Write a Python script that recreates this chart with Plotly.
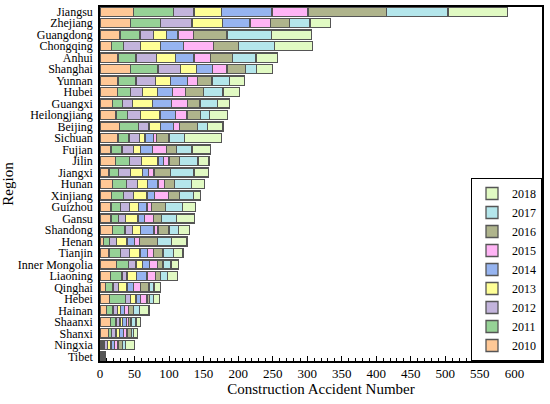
import plotly.graph_objects as go

regions = [
    "Jiangsu", "Zhejiang", "Guangdong", "Chongqing", "Anhui", "Shanghai", "Yunnan",
    "Hubei", "Guangxi", "Heilongjiang", "Beijing", "Sichuan", "Fujian", "Jilin",
    "Jiangxi", "Hunan", "Xinjiang", "Guizhou", "Gansu", "Shandong", "Henan",
    "Tianjin", "Inner Mongolia", "Liaoning", "Qinghai", "Hebei", "Hainan",
    "Shaanxi", "Shanxi", "Ningxia", "Tibet",
]

years = ["2010", "2011", "2012", "2013", "2014", "2015", "2016", "2017", "2018"]

# accidents per region, one list per year
y2010 = [48, 44, 29, 17, 26, 44, 26, 25, 18, 23, 28, 26, 16, 22, 13, 18, 17, 16, 16, 18, 5, 13, 24, 15, 8, 14, 9, 15, 12, 3, 1]
y2011 = [58, 44, 29, 17, 26, 40, 26, 19, 15, 17, 28, 16, 16, 21, 14, 20, 17, 14, 11, 18, 9, 17, 17, 17, 11, 23, 10, 8, 5, 3, 0]
y2012 = [30, 45, 19, 25, 30, 33, 28, 18, 14, 19, 15, 15, 17, 17, 17, 16, 15, 13, 10, 11, 10, 13, 11, 7, 8, 7, 6, 6, 6, 5, 1]
y2013 = [40, 44, 19, 29, 27, 23, 22, 21, 29, 28, 17, 8, 10, 24, 18, 15, 19, 13, 18, 12, 15, 15, 10, 14, 12, 8, 5, 4, 5, 5, 0]
y2014 = [73, 40, 17, 33, 27, 23, 25, 22, 28, 22, 18, 12, 17, 8, 8, 15, 11, 12, 9, 19, 11, 11, 10, 15, 9, 7, 5, 5, 6, 5, 2]
y2015 = [52, 30, 22, 43, 24, 21, 14, 19, 23, 17, 9, 5, 20, 8, 8, 9, 20, 7, 13, 6, 7, 8, 11, 12, 11, 9, 6, 3, 5, 5, 2]
y2016 = [114, 27, 49, 37, 32, 27, 21, 26, 18, 20, 26, 18, 15, 15, 24, 15, 16, 20, 12, 16, 26, 14, 8, 8, 12, 4, 7, 4, 7, 7, 1]
y2017 = [89, 30, 64, 52, 34, 16, 25, 28, 25, 13, 15, 22, 22, 27, 34, 24, 20, 24, 22, 14, 21, 15, 12, 10, 7, 5, 9, 7, 2, 4, 0]
y2018 = [86, 30, 58, 55, 31, 23, 22, 24, 18, 26, 22, 54, 27, 16, 21, 19, 11, 19, 26, 16, 22, 14, 11, 14, 10, 9, 14, 7, 6, 13, 1]

series = [y2010, y2011, y2012, y2013, y2014, y2015, y2016, y2017, y2018]
colors = ["#FFC896", "#96D296", "#C3B4DC", "#FFFF96", "#96B4F0",
          "#FFB4F5", "#AFB48C", "#B4E6EB", "#E1FAC3"]

fig = go.Figure()
for year, vals, col in zip(years, series, colors):
    fig.add_trace(go.Bar(
        name=year, y=regions, x=vals, orientation="h",
        marker=dict(color=col, line=dict(color="#555555", width=1.3)),
    ))

font = "Liberation Serif, Times New Roman, serif"
fig.update_layout(
    barmode="stack",
    bargap=0.2,
    width=550, height=404,
    margin=dict(l=100, r=8, t=7, b=43),
    plot_bgcolor="white",
    paper_bgcolor="white",
    font=dict(family=font, size=12, color="black"),
    legend=dict(
        traceorder="reversed",
        x=1, y=0, xanchor="right", yanchor="bottom",
        bordercolor="black", borderwidth=1,
        font=dict(size=12),
        itemwidth=30,
        tracegroupgap=0,
    ),
)
fig.update_xaxes(
    range=[0, 640],
    tickvals=list(range(0, 601, 50)),
    ticks="inside", ticklen=5, tickcolor="black",
    minor=dict(dtick=10, ticks="inside", ticklen=3, tickcolor="black"),
    showline=True, linecolor="black", linewidth=1.5, mirror=True,
    showgrid=False, zeroline=False,
    automargin=False,
    tickfont=dict(size=13),
    title=dict(text="Construction Accident Number", font=dict(size=15), standoff=2),
)
fig.update_yaxes(
    categoryorder="array", categoryarray=regions,
    tickmode="linear", dtick=1,
    range=[30.4, -0.4],
    showline=True, linecolor="black", linewidth=1.5, mirror=True,
    showgrid=False, ticks="",
    ticklabelstandoff=3,
    automargin=False,
    title=dict(text="Region", font=dict(size=15), standoff=8),
)

# the page's default body margin would shift the figure by 8px
fig.write_html("out.html", config={"displayModeBar": False},
               post_script="document.body.style.margin='0';")
